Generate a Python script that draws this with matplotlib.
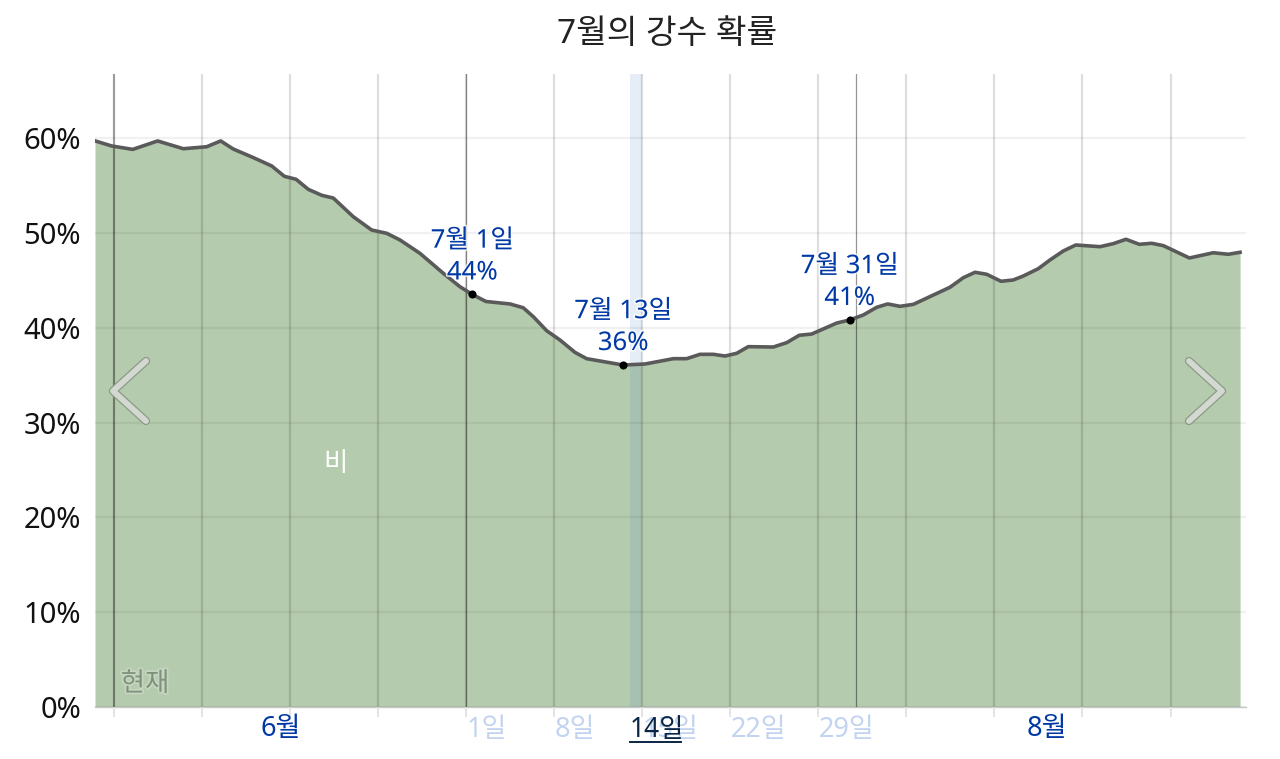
import matplotlib
matplotlib.use('Agg')
from matplotlib import pyplot as plt
from matplotlib import patheffects as pe
from matplotlib.lines import Line2D
from matplotlib.transforms import blended_transform_factory

plt.rcParams['font.family'] = ['Noto Sans', 'Noto Sans CJK KR', 'DejaVu Sans']

# days counted from 1 July 00:00
days = [-29.49, -28.16, -26.49, -24.51, -22.47, -20.61, -19.5, -18.5, -16.9, -15.44,
        -14.44, -13.51, -12.54, -11.47, -10.55, -8.96, -7.5, -6.3, -5.25, -3.66,
        -1.8, -0.48, 0.5, 1.59, 3.5, 4.55, 5.35, 6.41, 7.47, 8.66,
        9.59, 12.5, 14.23, 16.48, 17.54, 18.6, 19.66, 20.59, 21.52, 22.44,
        24.43, 25.49, 26.49, 27.48, 29.47, 30.5, 31.58, 32.65, 33.52, 34.5,
        35.56, 38.47, 39.53, 40.46, 41.39, 42.53, 43.5, 44.3, 45.49, 46.42,
        47.48, 48.47, 50.4, 51.45, 52.46, 53.52, 54.5, 55.43, 57.5, 59.4,
        60.6, 61.53]
rain = [59.7, 59.16, 58.8, 59.69, 58.87, 59.08, 59.69, 58.84, 57.93, 57.05,
        55.96, 55.65, 54.59, 53.96, 53.67, 51.7, 50.3, 49.95, 49.25, 47.84,
        45.73, 44.32, 43.5, 42.76, 42.5, 42.1, 41.16, 39.68, 38.7, 37.4,
        36.73, 36.06, 36.17, 36.73, 36.73, 37.19, 37.19, 37.01, 37.3, 38.0,
        37.96, 38.42, 39.2, 39.33, 40.49, 40.81, 41.34, 42.15, 42.5, 42.25,
        42.46, 44.26, 45.27, 45.84, 45.63, 44.89, 45.03, 45.45, 46.22, 47.14,
        48.09, 48.72, 48.54, 48.86, 49.32, 48.79, 48.9, 48.65, 47.35, 47.9,
        47.74, 47.95]

week_days = [-28, -21, -14, -7, 0, 7, 14, 21, 28, 35, 42, 49, 56]
strong_days = [-28, 0, 31]
y_ticks = [0, 10, 20, 30, 40, 50, 60]

mark_days = [0.5, 12.5, 30.5]
mark_vals = [43.5, 36.06, 40.81]
mark_labels = ['7월 1일\n44%', '7월 13일\n36%', '7월 31일\n41%']

pale_labels = ['1일', '8일', '15일', '22일', '29일']
pale_days = [0, 7, 14, 21, 28]
month_labels = ['6월', '8월']
month_days = [-14.75, 46.2]

W, H = 1280, 759
BLUE = '#0039a6'
PALE = '#c3d4f0'
GREEN = '#b5cbad'


def fx(x):
    return x / W


def fy(y):
    return 1 - y / H


fig = plt.figure(figsize=(12.8, 7.59), dpi=100)
ax = fig.add_axes([fx(95), fy(707), fx(1246) - fx(95), fy(74) - fy(707)])
ax.set_xlim(-29.49, 62)
ax.set_ylim(0, 66.75)
for s in ['top', 'left', 'right']:
    ax.spines[s].set_visible(False)
ax.spines['bottom'].set_color('#c4c8c4')
ax.spines['bottom'].set_linewidth(1)

ax.fill_between(days, rain, 0, color=GREEN, lw=0, zorder=1)
ax.axvspan(13, 14, color=(0.3, 0.5, 0.8, 0.14), lw=0, zorder=2)

ax.set_yticks(y_ticks)
ax.set_yticklabels(['%d%%' % v for v in y_ticks], fontsize=21, color='#111111')
ax.tick_params(axis='y', length=0, pad=10)
ax.set_xticks(week_days)
ax.set_xticklabels([])
ax.tick_params(axis='x', length=7.5, width=1.3, color='#e2e2e2')
ax.set_axisbelow(False)
ax.grid(axis='y', color='black', alpha=0.055, lw=1.6, zorder=3)
ax.grid(axis='x', color='black', alpha=0.13, lw=1.6, zorder=3)
ax.axvline(strong_days[0], color='black', alpha=0.3, lw=1.5, zorder=3)
for d in strong_days[1:]:
    ax.axvline(d, color='black', alpha=0.42, lw=0.9, zorder=3)

ax.plot(days, rain, color='#5a5a5a', lw=2.6, zorder=4, solid_joinstyle='round')
ax.scatter(mark_days, mark_vals, s=34, color='black', lw=0, zorder=6)

halo = [pe.withStroke(linewidth=2.5, foreground='white', alpha=0.75)]
for d, v, lab in zip(mark_days, mark_vals, mark_labels):
    ax.annotate(lab, (d, v), xytext=(0, 6.5), textcoords='offset points', ha='center', va='bottom',
                fontsize=18.5, color=BLUE, linespacing=1.36, zorder=7, path_effects=halo)

fig.text(fx(335), fy(464), '비', fontsize=19, color='white', ha='center', va='center', zorder=8)
fig.text(fx(145), fy(684), '현재', fontsize=19, color='#7f907b', ha='center', va='center', zorder=8,
         path_effects=[pe.withStroke(linewidth=2.5, foreground='#c5d6c0')])

# x labels under the axis
tr = blended_transform_factory(ax.transData, fig.transFigure)
for d, lab in zip(pale_days, pale_labels):
    ax.text(d + 0.05, fy(730), lab, transform=tr, fontsize=19.5, color=PALE, ha='left', va='center', clip_on=False)
for d, lab in zip(month_days, month_labels):
    ax.text(d, fy(729), lab, transform=tr, fontsize=19.5, color=BLUE, ha='center', va='center', clip_on=False,
            fontweight='medium')
ax.text(13.0, fy(730), '14일', transform=tr, fontsize=19, color='#0b2545', ha='left', va='center', clip_on=False)
ax.plot([13.0, 17.05], [fy(741.5), fy(741.5)], transform=tr, color='#0b2545', lw=1.4, clip_on=False)

fig.text(fx(667), fy(35), '7월의 강수 확률', fontsize=24, color='#222222', ha='center', va='center',
         fontweight='medium')

# scroll arrows
for xs in ([146, 113, 146], [1189, 1222, 1189]):
    ys = [361, 391, 421]
    xf = [fx(v) for v in xs]
    yf = [fy(v) for v in ys]
    fig.add_artist(Line2D(xf, yf, color='#8c9a88', lw=6.0, solid_capstyle='round', solid_joinstyle='round'))
    fig.add_artist(Line2D(xf, yf, color='#d3d9d0', lw=4.2, solid_capstyle='round', solid_joinstyle='round'))

fig.savefig('out.png', dpi=100)
